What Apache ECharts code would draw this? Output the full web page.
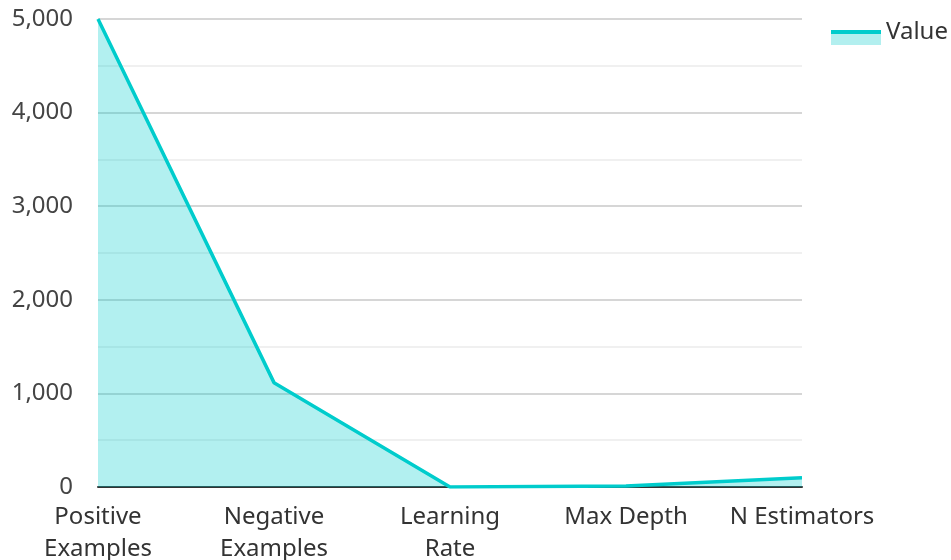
<!DOCTYPE html>
<html>
<head>
<meta charset="utf-8">
<script src="https://cdn.jsdelivr.net/npm/echarts@6/dist/echarts.min.js"></script>
<style>html,body{margin:0;padding:0;background:#fff;}#c{width:951px;height:560px;}</style>
</head>
<body>
<div id="c"></div>
<script>
var categories = ['Positive\nExamples', 'Negative\nExamples', 'Learning\nRate', 'Max Depth', 'N Estimators'];
var values = [5000, 1115, 0.1, 10, 100];
var seriesName = 'Value';

var chart = echarts.init(document.getElementById('c'), null, {renderer: 'canvas'});
var font = '"Noto Sans", sans-serif';
chart.setOption({
  animation: false,
  textStyle: {fontFamily: font},
  grid: {left: 98, right: 149, top: 19, bottom: 73, containLabel: false, outerBoundsMode: 'none'},
  legend: {
    left: 826, top: 15,
    itemWidth: 50, itemHeight: 25,
    itemGap: 10,
    textStyle: {fontSize: 24, color: '#333', fontFamily: font},
    data: [{
      name: seriesName,
      icon: 'rect',
      itemStyle: {
        color: {type: 'linear', x: 0, y: 0, x2: 0, y2: 1, colorStops: [
          {offset: 0, color: 'rgba(255,255,255,0)'}, {offset: 0.4, color: 'rgba(255,255,255,0)'},
          {offset: 0.4, color: '#00cccc'}, {offset: 0.56, color: '#00cccc'},
          {offset: 0.56, color: '#b2efef'}, {offset: 1, color: '#b2efef'}
        ]}
      },
      lineStyle: {width: 0}
    }]
  },
  xAxis: {
    type: 'category',
    data: categories,
    boundaryGap: false,
    axisLine: {lineStyle: {color: '#333', width: 2}},
    axisTick: {show: false},
    axisLabel: {fontSize: 24, color: '#333', lineHeight: 32, margin: 14, interval: 0, fontFamily: font}
  },
  yAxis: {
    type: 'value',
    min: 0, max: 5000, interval: 1000,
    axisLine: {show: false},
    axisTick: {show: false},
    axisLabel: {fontSize: 24, color: '#444', margin: 25, fontFamily: font,
      formatter: function (v) { return v.toLocaleString('en-US'); }},
    splitLine: {lineStyle: {color: '#c8c8c8', width: 1.5}},
    minorTick: {show: false, splitNumber: 2},
    minorSplitLine: {show: true, lineStyle: {color: '#ebebeb', width: 1.5}}
  },
  series: [{
    name: seriesName,
    type: 'line',
    data: values,
    symbol: 'none',
    lineStyle: {color: '#00cccc', width: 3.5},
    itemStyle: {color: '#00cccc'},
    areaStyle: {color: 'rgba(0,204,204,0.3)', opacity: 1}
  }]
});
</script>
</body>
</html>
